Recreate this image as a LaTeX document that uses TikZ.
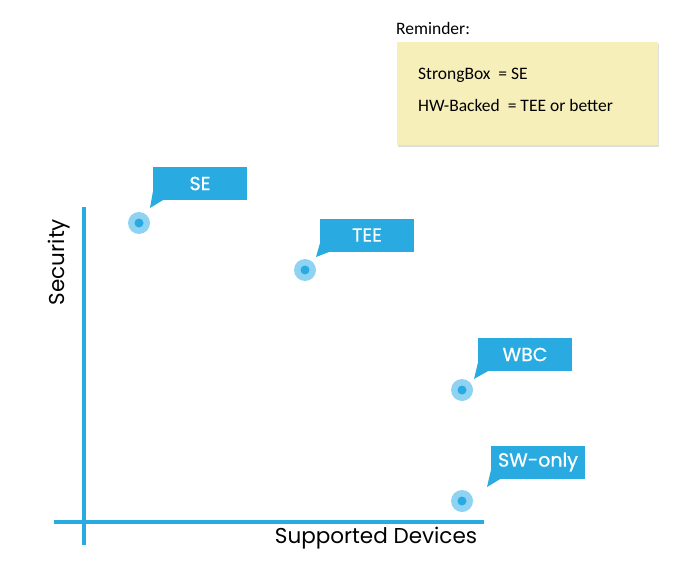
\documentclass[tikz,border=0pt]{standalone}
\usepackage{fontspec}
\setmainfont{Poppins}
\newfontfamily\notefont{Carlito}
\newfontfamily\tagfont[FakeBold=0.8]{Poppins}
\usetikzlibrary{positioning,calc,shadows}

\definecolor{axisblue}{RGB}{41,171,226}
\definecolor{ringblue}{RGB}{143,211,242}
\definecolor{notefill}{RGB}{246,239,185}

\begin{document}
\begin{tikzpicture}[x=1pt, y=-1pt,
  axisline/.style={draw=axisblue, line width=4pt},
  axlbl/.style={font=\fontsize{21.5}{24}\selectfont, text=black, inner sep=0pt},
  ring/.style={circle, fill=ringblue, minimum size=22pt, inner sep=0pt},
  dot/.style={circle, fill=axisblue, minimum size=9pt, inner sep=0pt},
  tag/.style={fill=axisblue, text=white, minimum width=94pt, minimum height=33pt,
    inner sep=0pt, font=\tagfont\fontsize{19}{21}\selectfont},
  notetxt/.style={font=\notefont\fontsize{17.5}{20}\selectfont, inner sep=0pt, anchor=west}
]
\useasboundingbox (0,0) rectangle (700,580);

% axes
\coordinate (ytop) at (84,207);
\coordinate (ybot) at (84,545);
\coordinate (xleft) at (54,522);
\coordinate (xright) at (484,522);
\draw[axisline] (ytop) -- (ybot);
\draw[axisline] (xleft) -- (xright);
\node[axlbl, rotate=90] (ylbl) at (59,262) {Security};
\node[axlbl] (xlbl) at (376,538) {Supported Devices};

% points
\node[ring] (pse) at (139,223) {};
\node[ring] (ptee) at (305,270) {};
\node[ring] (pwbc) at (462,390) {};
\node[ring] (psw) at (462,501) {};
\foreach \p in {pse,ptee,pwbc,psw}
  \node[dot] at (\p) {};

% callouts
\node[tag] (tse) at (200,183.5) {SE};
\node[tag] (ttee) at (367,235) {TEE};
\node[tag] (twbc) at (525,354.5) {WBC};
\node[tag] (tsw) at (538,462) {SW-only};
\fill[axisblue] ([yshift=8pt]tse.south west) -- ($(pse)+(11,-15)$) -- ([xshift=10pt]tse.south west) -- cycle;
\fill[axisblue] ([yshift=8pt]ttee.south west) -- ($(ptee)+(11,-13)$) -- ([xshift=10pt]ttee.south west) -- cycle;
\fill[axisblue] ([yshift=8pt]twbc.south west) -- ($(pwbc)+(12,-11)$) -- ([xshift=10pt]twbc.south west) -- cycle;
\fill[axisblue] ([yshift=8pt]tsw.south west) -- ($(psw)+(25,-14)$) -- ([xshift=10pt]tsw.south west) -- cycle;

% reminder note
\node[font=\notefont\fontsize{17.5}{20}\selectfont, inner sep=0pt, anchor=west] (rem) at (396,28) {Reminder:};
\node[fill=notefill, minimum width=261pt, minimum height=103pt, inner sep=0pt,
  drop shadow={shadow xshift=1pt, shadow yshift=-2pt, opacity=0.25}] (note) at (527.5,93.5) {};
\node[notetxt] (l1) at (418,75) {StrongBox\ \ = SE};
\node[notetxt] (l2) at (418,105) {HW-Backed\ \ = TEE or better};
\end{tikzpicture}
\end{document}
